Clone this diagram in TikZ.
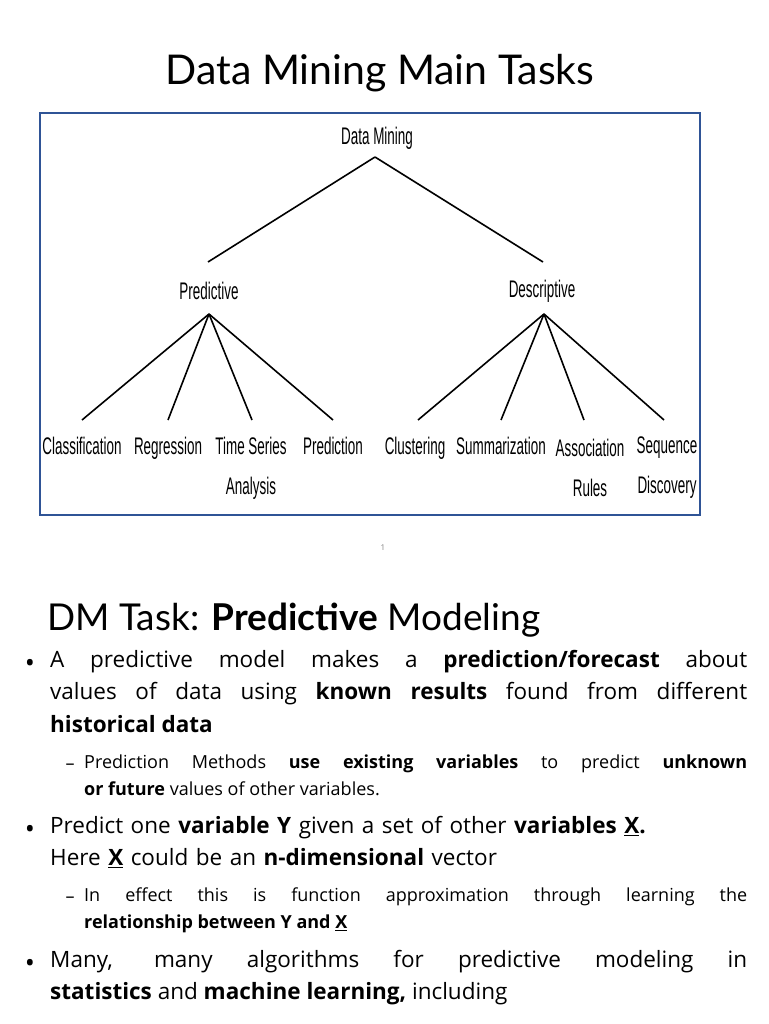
\documentclass[tikz,border=0pt]{standalone}
\usepackage{fontspec}
\setmainfont{Open Sans}
\newfontfamily\titlefont{Lato}
\newfontfamily\treefont[FakeStretch=0.56]{Liberation Sans}
\usetikzlibrary{positioning}
\definecolor{framecol}{RGB}{47,84,150}
\tikzset{
  branch/.style={line width=1.6pt},
  treelabel/.style={font=\treefont\fontsize{24}{40}\selectfont, inner sep=1pt, align=center},
  leaflabel/.style={treelabel, anchor=north, inner ysep=0pt},
  bodytext/.style={anchor=north west, inner sep=0pt, align=justify, font=\fontsize{22.5}{32.5}\selectfont},
  subtext/.style={anchor=north west, inner sep=0pt, align=justify, font=\fontsize{18}{27}\selectfont},
  bulletmark/.style={font=\fontsize{27}{30}\selectfont},
}
\begin{document}
\begin{tikzpicture}[x=1pt, y=-1pt]
\useasboundingbox (0,0) rectangle (768,1024);
\node[font=\titlefont\fontsize{41}{44}\selectfont] (title) at (380,73) {Data Mining Main Tasks};
\draw[framecol, line width=2pt] (40,113) rectangle (700,515);
% tree
\node[treelabel] (dm) at (377,138) {Data Mining};
\node[treelabel] (pred) at (209,291) {Predictive};
\node[treelabel] (desc) at (542,291) {Descriptive};
\coordinate (dmb) at (375,157);
\coordinate (predt) at (208,262);
\coordinate (desct) at (543,262);
\coordinate (predb) at (209,314);
\coordinate (descb) at (544,314);
\draw[branch] (dmb) -- (predt);
\draw[branch] (dmb) -- (desct);
\node[leaflabel] (cls) at (82,437) {Classification};
\node[leaflabel] (reg) at (168,437) {Regression};
\node[leaflabel] (tsa) at (251,437) {Time Series\\Analysis};
\node[leaflabel] (prd) at (333,437) {Prediction};
\node[leaflabel] (clu) at (415,437) {Clustering};
\node[leaflabel] (sum) at (501,437) {Summarization};
\node[leaflabel] (ass) at (590,439) {Association\\Rules};
\node[leaflabel] (seq) at (667,437) {Sequence\\Discovery};
\foreach \leaf/\x in {cls/82, reg/168, tsa/252, prd/333}
  \draw[branch] (predb) -- (\x,420);
\foreach \leaf/\x in {clu/418, sum/501, ass/584, seq/664}
  \draw[branch] (descb) -- (\x,420);
\node[font=\fontsize{8}{10}\selectfont, text=gray] (pg) at (383,548) {1};
% text
\node[anchor=base west, inner sep=0pt, font=\titlefont\fontsize{37}{40}\selectfont] (head) at (47,630) {DM Task: \textbf{Predictive} Modeling};
\node[bulletmark] (b1) at (30,666) {•};
\node[bodytext, text width=697pt] (t1) at (50,650) {A predictive model makes a \textbf{prediction/forecast} about\linebreak values of data using \textbf{known results} found from different\linebreak \textbf{historical data}};
\node[font=\fontsize{18}{22}\selectfont] (d1) at (70,767) {–};
\node[subtext, text width=663pt] (s1) at (84,755) {Prediction Methods \textbf{use existing variables} to predict \textbf{unknown}\linebreak \textbf{or future} values of other variables.};
\node[bulletmark] (b2) at (30,832) {•};
\node[bodytext, text width=697pt, align=left] (t2) at (50,816) {Predict one \textbf{variable Y} given a set of other \textbf{variables \underline{X}.}\\ Here \textbf{\underline{X}} could be an \textbf{n-dimensional} vector};
\node[font=\fontsize{18}{22}\selectfont] (d2) at (70,900) {–};
\node[subtext, text width=663pt] (s2) at (84,888) {In effect this is function approximation through learning the\linebreak \textbf{relationship between Y and \underline{X}}};
\node[bulletmark] (b3) at (30,966) {•};
\node[bodytext, text width=697pt] (t3) at (50,950) {Many, many algorithms for predictive modeling in\linebreak \textbf{statistics} and \textbf{machine learning,} including};
\end{tikzpicture}
\end{document}
